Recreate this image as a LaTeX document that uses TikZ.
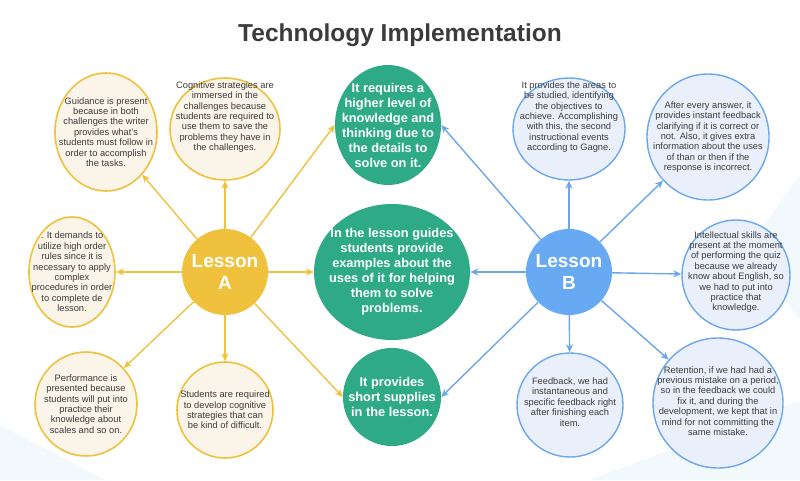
\documentclass[tikz,border=0pt]{standalone}
\usepackage{fontspec}
\setmainfont{Liberation Sans}
\usepackage{xcolor}
\usepackage{tikz}
\usetikzlibrary{shapes.geometric}
\usetikzlibrary{arrows.meta}

\definecolor{lessonA}{HTML}{F0C13C}
\definecolor{creamA}{HTML}{FBF4E8}
\definecolor{lessonB}{HTML}{68A9F3}
\definecolor{edgeB}{HTML}{6CA7EC}
\definecolor{paleB}{HTML}{EAF0FB}
\definecolor{teal}{HTML}{2EAB86}
\definecolor{titlegray}{HTML}{3B3B3B}
\definecolor{wash}{HTML}{F2F9FC}

\tikzset{
    hub/.style={circle, fill=#1, text=white, minimum size=86pt, inner sep=0pt,
        align=center, font=\bfseries\fontsize{19}{21.5}\selectfont},
    leafA/.style={ellipse, draw=lessonA, fill=creamA, line width=1.6pt, inner sep=0pt},
    leafB/.style={ellipse, draw=edgeB, fill=paleB, line width=1.4pt, inner sep=0pt},
    core/.style={ellipse, fill=teal, inner sep=0pt},
    tiny/.style={align=center, text=titlegray, font=\fontsize{9.3}{10.4}\selectfont},
    big/.style={align=center, text=white, font=\bfseries\fontsize{12.8}{15}\selectfont},
    linkA/.style={draw=lessonA, line width=1.4pt, -{Stealth[length=8pt,width=7pt,inset=2.5pt]}},
    linkB/.style={draw=edgeB, line width=1.4pt, -{Stealth[length=8pt,width=7pt,inset=2.5pt]}}
}

\begin{document}
\begin{tikzpicture}[x=1pt, y=-1pt]
    \useasboundingbox (0,0) rectangle (800,480);
    \fill[wash] (0,425) -- (105,480) -- (0,480) -- cycle;
    \fill[wash] (800,175) -- (745,250) -- (800,320) -- cycle;
    \fill[wash] (590,480) -- (800,400) -- (800,480) -- cycle;

    \node[text=titlegray, font=\bfseries\fontsize{24.5}{28}\selectfont] (title) at (400,35) {Technology Implementation};

    \node[hub=lessonA] (lesA) at (225,272) {Lesson\\A};
    \node[hub=lessonB] (lesB) at (569,272) {Lesson\\B};

    \node[core, minimum width=106pt, minimum height=120pt,
        label={[big]center:It requires a\\higher level of\\knowledge and\\thinking due to\\the details to\\solve on it.}] (reqs) at (388,125) {};
    \node[core, minimum width=156pt, minimum height=136pt,
        label={[big]center:In the lesson guides\\students provide\\examples about the\\uses of it for helping\\them to solve\\problems.}] (guides) at (392,272) {};
    \node[core, minimum width=98pt, minimum height=98pt,
        label={[big]center:It provides\\short supplies\\in the lesson.}] (supp) at (392,397) {};

    \node[leafA, minimum width=102pt, minimum height=118pt,
        label={[tiny]center:Guidance is present\\because in both\\challenges the writer\\provides what's\\students must follow in\\order to accomplish\\the tasks.}] (guid) at (106,132) {};
    \node[leafA, minimum width=110pt, minimum height=102pt,
        label={[tiny, yshift=12pt]center:Cognitive strategies are\\immersed in the\\challenges because\\students are required to\\use them to save the\\problems they have in\\the challenges.}] (cogn) at (225,129) {};
    \node[leafA, minimum width=86pt, minimum height=110pt,
        label={[tiny]center:. It demands to\\utilize high order\\rules since it is\\necessary to apply\\complex\\procedures in order\\to complete de\\lesson.}] (dem) at (72,272) {};
    \node[leafA, minimum width=102pt, minimum height=104pt,
        label={[tiny]center:Performance is\\presented because\\students will put into\\practice their\\knowledge about\\scales and so on.}] (perf) at (86,404) {};
    \node[leafA, minimum width=96pt, minimum height=96pt,
        label={[tiny]center:Students are required\\to develop cognitive\\strategies that can\\be kind of difficult.}] (stud) at (225,410) {};

    \node[leafB, minimum width=112pt, minimum height=102pt,
        label={[tiny, yshift=12pt]center:It provides the areas to\\be studied, identifying\\the objectives to\\achieve. Accomplishing\\with this, the second\\instructional events\\according to Gagne.}] (areas) at (569,129) {};
    \node[leafB, minimum width=122pt, minimum height=126pt,
        label={[tiny]center:After every answer, it\\provides instant feedback\\clarifying if it is correct or\\not. Also, it gives extra\\information about the uses\\of than or then if the\\response is incorrect.}] (after) at (708,137) {};
    \node[leafB, minimum width=108pt, minimum height=110pt,
        label={[tiny, yshift=3pt]center:Intellectual skills are\\present at the moment\\of performing the quiz\\because we already\\know about English, so\\we had to put into\\practice that\\knowledge.}] (intel) at (736,275) {};
    \node[leafB, minimum width=106pt, minimum height=104pt,
        label={[tiny, yshift=3pt]center:Feedback, we had\\instantaneous and\\specific feedback right\\after finishing each\\item.}] (feed) at (570,405) {};
    \node[leafB, minimum width=130pt, minimum height=130pt,
        label={[tiny, yshift=2pt]center:Retention, if we had had a\\previous mistake on a period,\\so in the feedback we could\\fix it, and during the\\development, we kept that in\\mind for not committing the\\same mistake.}] (ret) at (718,403) {};

    \foreach \leaf in {guid,cogn,dem,perf,stud}
        \draw[linkA] (lesA) -- (\leaf);
    \draw[linkA] (lesA) -- (reqs.west);
    \draw[linkA] (lesA) -- (guides.west);
    \draw[linkA] (lesA) -- (supp.west);

    \foreach \leaf in {areas,after,intel,feed,ret}
        \draw[linkB] (lesB) -- (\leaf);
    \draw[linkB] (lesB) -- (reqs.east);
    \draw[linkB] (lesB) -- (guides.east);
    \draw[linkB] (lesB) -- (supp.east);
\end{tikzpicture}
\end{document}
